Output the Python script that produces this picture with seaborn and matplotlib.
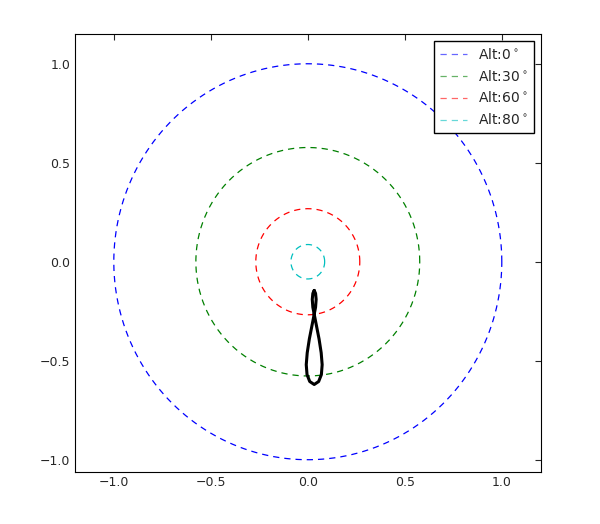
import matplotlib
matplotlib.use("Agg")
import matplotlib.pyplot as plt
import seaborn as sns
import numpy as np
import pandas as pd

altitudes = [0, 30, 60, 80]
radii = [1.0, 0.577, 0.268, 0.087]
colors = ["#0000ff", "#008000", "#ff0000", "#00bfbf"]
ana_x = [0.033,0.040,0.043,0.040,0.033,0.022,0.008,-0.003,-0.008,-0.004,0.010,0.033,0.056,0.070,0.074,0.069,0.058,0.044,0.033,0.026,0.023,0.026,0.033]
ana_y = [-0.145,-0.160,-0.190,-0.230,-0.265,-0.320,-0.390,-0.460,-0.520,-0.570,-0.605,-0.620,-0.605,-0.570,-0.520,-0.460,-0.390,-0.320,-0.265,-0.230,-0.190,-0.160,-0.145]

sns.set_style("white")
plt.rcParams['font.family'] = ['DejaVu Sans']
fig = plt.figure(figsize=(6, 5.24), dpi=100)
ax = fig.add_axes([0.125, 0.1, 0.776, 0.835])
theta = np.linspace(0, 2*np.pi, 400)
for alt, r, c in zip(altitudes, radii, colors):
    df = pd.DataFrame({"x": r*np.cos(theta), "y": r*np.sin(theta)})
    sns.lineplot(data=df, x="x", y="y", sort=False, estimator=None, ax=ax, color=c, lw=0.9,
                 dashes=False, label=r"Alt:$%d^\circ$" % alt)
    ax.lines[-1].set_dashes((5, 4))
sns.lineplot(x=ana_x, y=ana_y, sort=False, estimator=None, ax=ax, color="black", lw=2.2)
ax.set_xlim(-1.2, 1.2)
ax.set_ylim(-1.06, 1.15)
ax.set_xticks([-1.0, -0.5, 0.0, 0.5, 1.0])
ax.set_yticks([-1.0, -0.5, 0.0, 0.5, 1.0])
ax.set_xlabel(""); ax.set_ylabel("")
ax.tick_params(direction="in", length=4, labelsize=9, top=True, right=True)
for s in ax.spines.values():
    s.set_color("black")
leg = ax.legend(loc="upper right", fontsize=10, fancybox=False, framealpha=1, edgecolor="black")
for h in leg.get_lines():
    h.set_dashes((5, 4))
    h.set_alpha(0.6)
fig.savefig("out.png")
